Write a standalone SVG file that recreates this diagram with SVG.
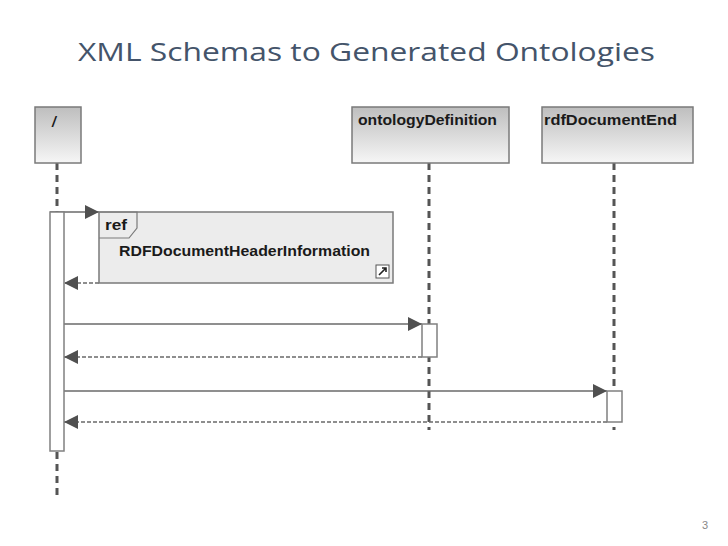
<svg xmlns="http://www.w3.org/2000/svg" width="728" height="546" viewBox="0 0 728 546">
<defs>
<linearGradient id="hg" x1="0" y1="0" x2="0" y2="1">
<stop offset="0" stop-color="#bebebe"/>
<stop offset="1" stop-color="#f6f6f6"/>
</linearGradient>
<marker id="ah" viewBox="0 0 14 14" refX="14" refY="7" markerWidth="14" markerHeight="14" markerUnits="userSpaceOnUse" orient="auto">
<path d="M0,0 L14,7 L0,14 Z" fill="#505050"/>
</marker>
<style>
.head{fill:url(#hg);stroke:#7a7a7a;stroke-width:1.5}
.lbl{font-family:"Liberation Sans",Arial,sans-serif;font-weight:bold;font-size:14px;fill:#1a1a1a}
.life{stroke:#555;stroke-width:3;stroke-dasharray:7 5;fill:none}
.act{fill:#fff;stroke:#808080;stroke-width:1.5}
.msg{stroke:#6a6a6a;stroke-width:1.5;fill:none;marker-end:url(#ah)}
.ret{stroke:#6a6a6a;stroke-width:1.5;stroke-dasharray:4 2;fill:none;marker-end:url(#ah)}
</style>
</defs>
<rect width="728" height="546" fill="#fff"/>
<text x="78" y="61" font-family="'Open Sans',Lato,sans-serif" font-size="26" fill="#44546a" textLength="577" lengthAdjust="spacingAndGlyphs">XML Schemas to Generated Ontologies</text>

<g id="connectors">
<line class="life" x1="57" y1="163" x2="57" y2="212"/>
<line class="life" x1="57" y1="452" x2="57" y2="498"/>
<line class="life" x1="429" y1="163" x2="429" y2="430"/>
<line class="life" x1="614" y1="163" x2="614" y2="430"/>
<line class="msg" x1="50" y1="212" x2="99" y2="212"/>
<line class="ret" x1="99" y1="283" x2="64" y2="283"/>
<line class="msg" x1="64" y1="324" x2="422" y2="324"/>
<line class="ret" x1="422" y1="357" x2="64" y2="357"/>
<line class="msg" x1="64" y1="391" x2="607" y2="391"/>
<line class="ret" x1="607" y1="422" x2="64" y2="422"/>
</g>

<g id="n_root">
<rect class="head" x="35" y="107" width="46" height="56"/>
<text class="lbl" x="52" y="127" font-size="15" font-style="italic">/</text>
</g>
<g id="n_ontologyDefinition">
<rect class="head" x="352" y="107" width="157" height="56"/>
<text class="lbl" x="358" y="125" textLength="139" lengthAdjust="spacingAndGlyphs">ontologyDefinition</text>
</g>
<g id="n_rdfDocumentEnd">
<rect class="head" x="542" y="107" width="151" height="56"/>
<text class="lbl" x="544" y="125" textLength="133" lengthAdjust="spacingAndGlyphs">rdfDocumentEnd</text>
</g>

<g id="act_root"><rect class="act" x="50" y="212" width="14" height="239"/></g>
<g id="act_ontology"><rect class="act" x="422" y="324" width="15" height="33"/></g>
<g id="act_rdfEnd"><rect class="act" x="607" y="391" width="15" height="31"/></g>

<g id="ref_frame">
<rect x="99" y="212" width="294" height="71" fill="#ececec" stroke="#7a7a7a" stroke-width="1.5"/>
<path d="M99,212 H137 V228 L129,238 H99" fill="none" stroke="#7a7a7a" stroke-width="1.2"/>
<text class="lbl" x="105" y="230" font-size="15" textLength="22" lengthAdjust="spacingAndGlyphs">ref</text>
<text class="lbl" x="119" y="256" font-size="15" textLength="251" lengthAdjust="spacingAndGlyphs">RDFDocumentHeaderInformation</text>
<rect x="376" y="265" width="13" height="13" fill="#fff" stroke="#555" stroke-width="1"/>
<path d="M379,275 L386,268 M382,268 H386 V272" stroke="#222" stroke-width="1.6" fill="none"/>
</g>

<text x="702" y="529" font-family="'Liberation Sans',Arial,sans-serif" font-size="11" fill="#888">3</text>
</svg>
